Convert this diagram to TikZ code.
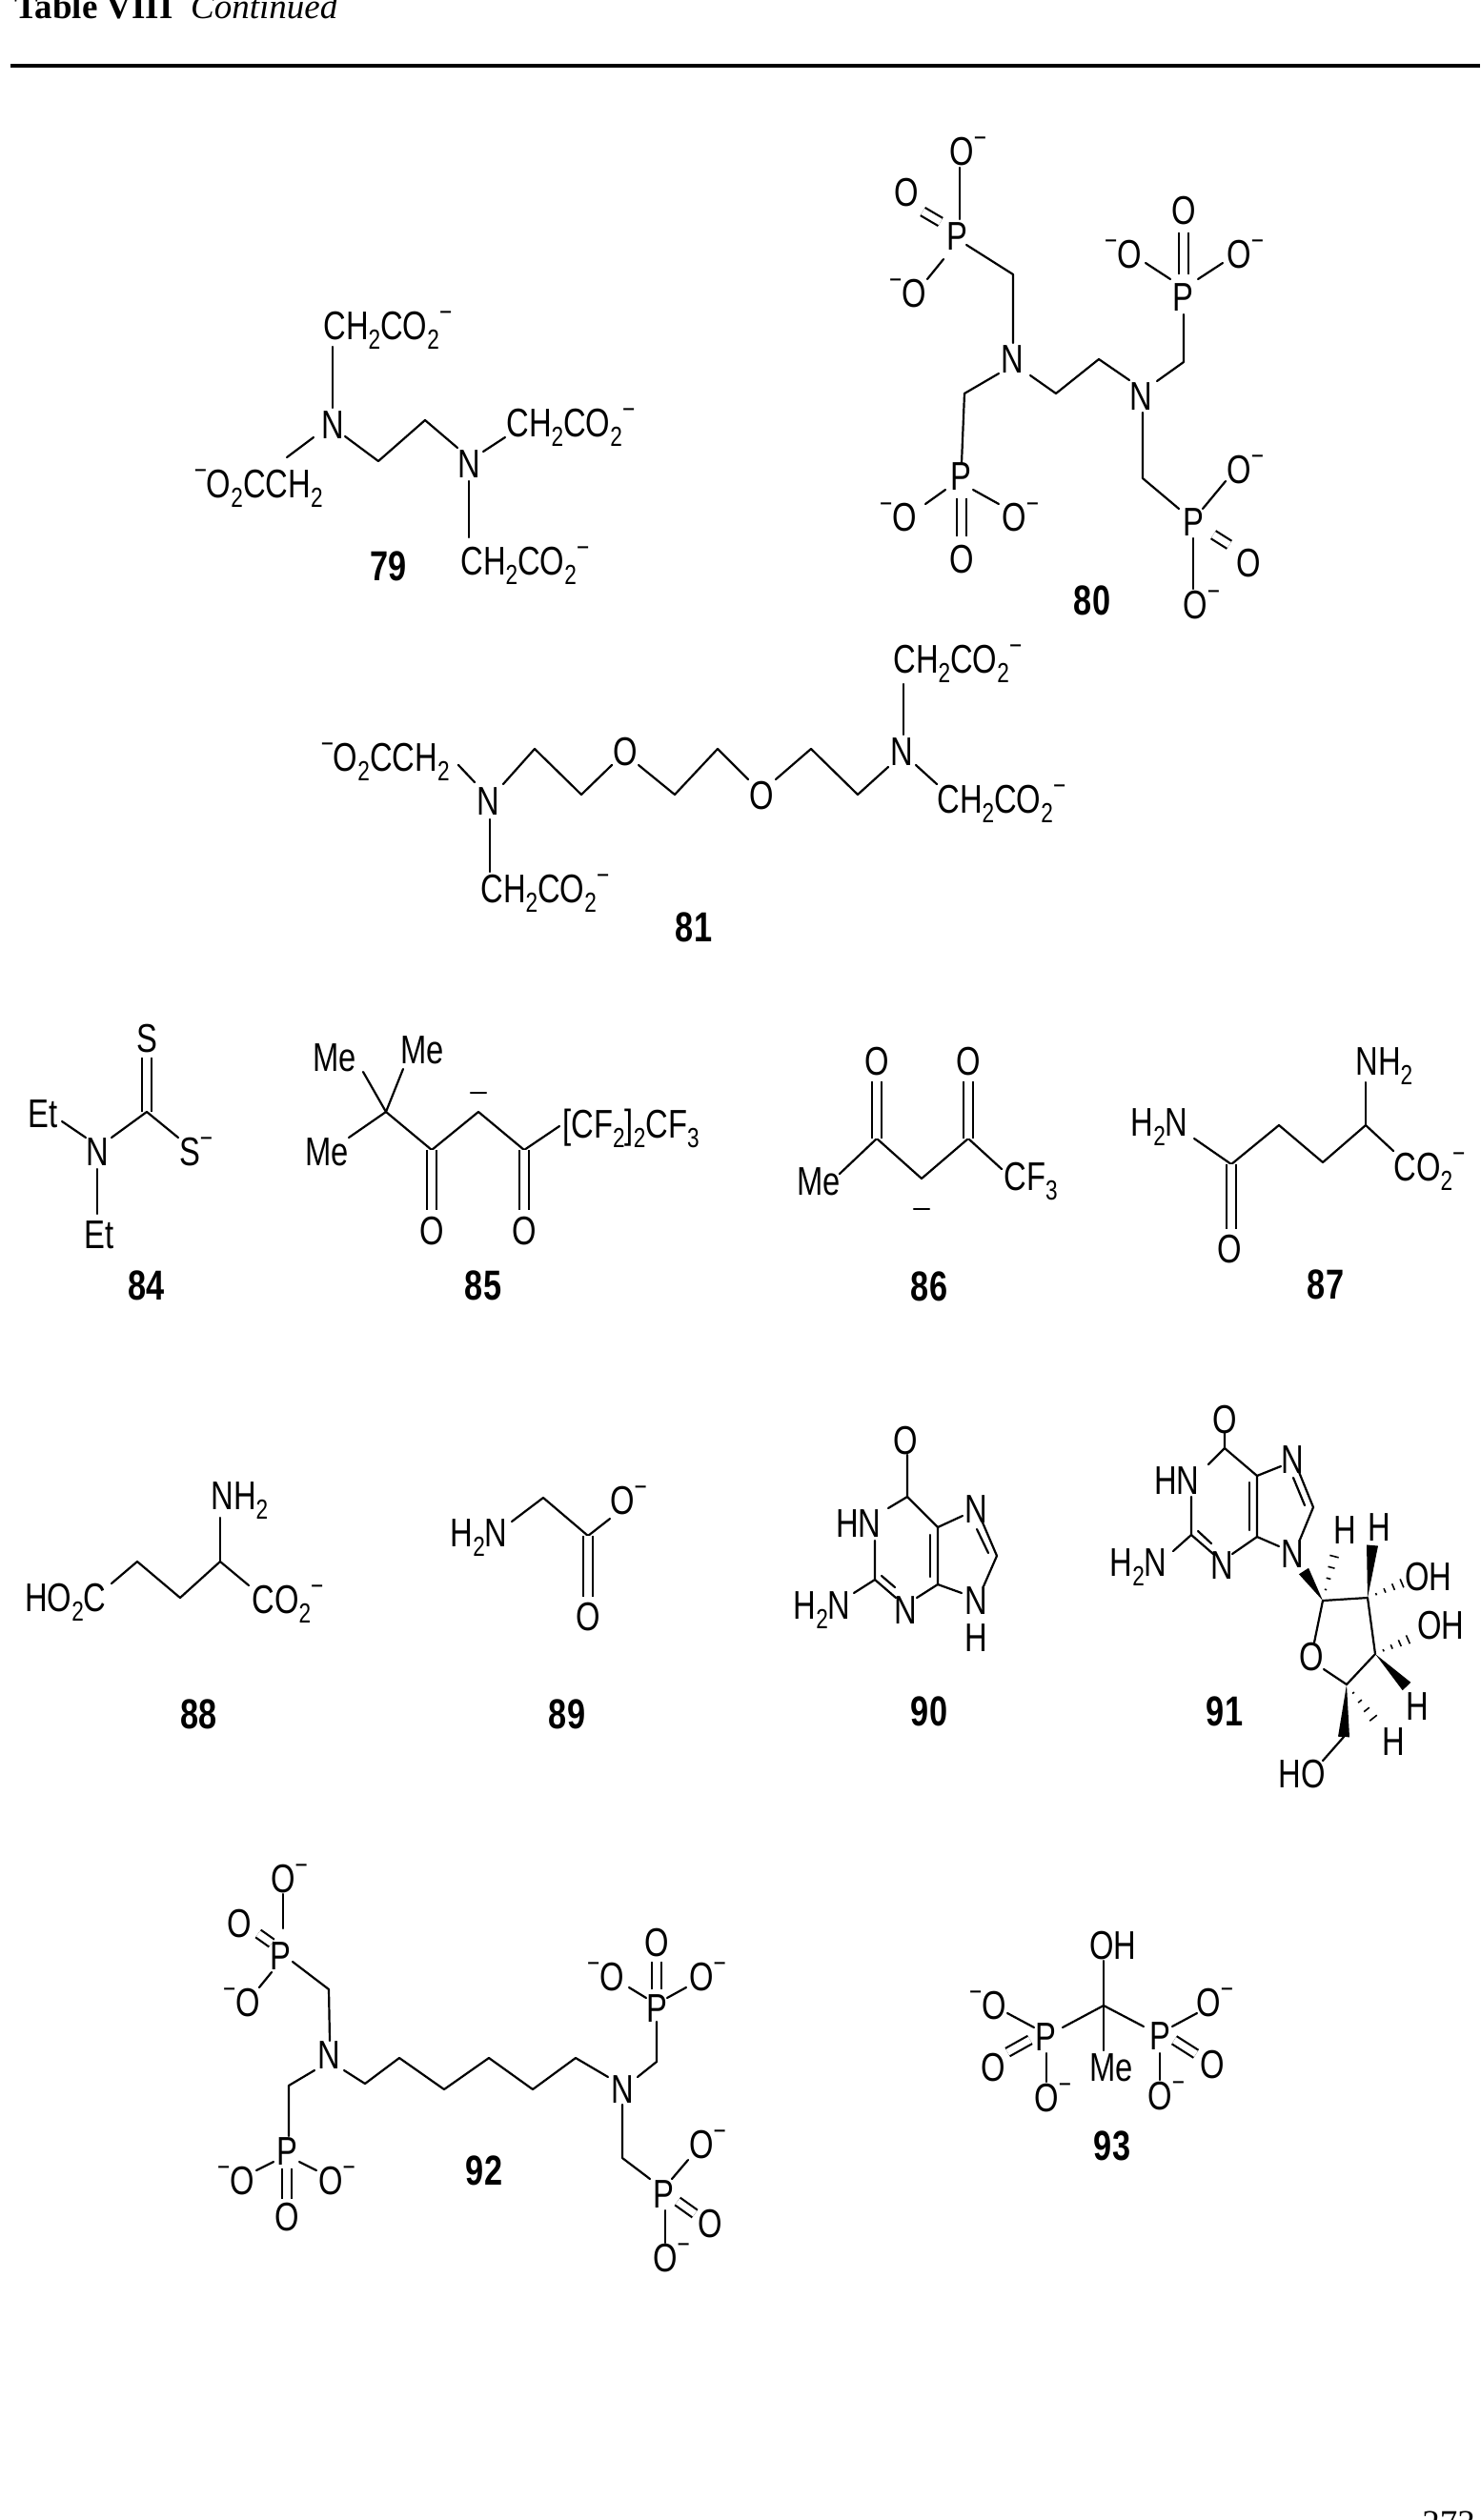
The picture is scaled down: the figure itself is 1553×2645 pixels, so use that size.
\documentclass[tikz,border=0pt]{standalone}
\usepackage{fontspec}
\usetikzlibrary{calc}
\setmainfont{Liberation Serif}
\newfontfamily\chemf{Liberation Sans}[FakeStretch=0.78]
\newcommand\chemfs{\chemf\fontsize{21}{23}\selectfont}
\newcommand\numfs{\chemf\bfseries\fontsize{22}{24}\selectfont}
\newcommand\sbs[1]{\raisebox{-0.45ex}{\fontsize{14.5}{15}\selectfont #1}}
\newcommand\chg{\raisebox{0.85ex}{\fontsize{14.5}{15}\selectfont −}}
\newcommand\Om{O\rlap{\chg}}
\newcommand\mO{\llap{\chg}O}
\newcount\nc
\newcommand\T[4][center]{\global\advance\nc by 1 \node[atom,anchor=#1] (n\the\nc) at (#2,#3) {#4};}
\newcommand\NUM[3]{\global\advance\nc by 1 \node[num] (n\the\nc) at (#1,#2) {#3};}
\newcommand\D[4]{\draw[bd,line cap=butt,double,double distance=3.6pt,shorten >=2.5pt] (#1,#2)--(#3,#4);}
\newcommand\DD[4]{\draw[bd,line cap=butt,double,double distance=3.6pt,shorten >=3pt,shorten <=3pt] (#1,#2)--(#3,#4);}
\newcommand\W[4]{\fill (#1,#2) -- ($(#3,#4)!3pt!90:(#1,#2)$) -- ($(#3,#4)!3pt!-90:(#1,#2)$) -- cycle;}
\newcommand\HH[4]{\foreach \t in {0.2,0.4,0.6,0.8,1.0}{\draw[line width=0.8pt] ($($(#1,#2)!\t!(#3,#4)$)!{\t*3pt}!90:(#3,#4)$) -- ($($(#1,#2)!\t!(#3,#4)$)!{\t*3pt}!-90:(#3,#4)$);}}
\begin{document}
\begin{tikzpicture}[x=0.5pt,y=-0.5pt,
  bd/.style={line width=1.1pt,line cap=round,line join=round},
  atom/.style={font=\chemfs,inner sep=0pt},
  num/.style={font=\numfs,inner sep=0pt}]
\useasboundingbox (0,0) rectangle (1553,2645);
\fill[white] (0,0) rectangle (1553,2645);
% header
\node[anchor=base west,inner sep=0,font=\fontsize{18.5}{20}\selectfont] (hdr) at (15,19) {\textbf{Table VIII}\ \ \textit{Continued}};
\draw[line width=2.2pt] (11,69) -- (1553,69);
\node[anchor=base west,inner sep=0,font=\fontsize{18.5}{20}\selectfont] (pg) at (1492,2660) {273};
% ---------- 79
\T[west]{339}{347}{CH\sbs2CO\sbs2\chg}
\T[east]{339}{513}{\chg O\sbs2CCH\sbs2}
\T{349}{446}{N}
\T{492}{487}{N}
\T[west]{531}{449}{CH\sbs2CO\sbs2\chg}
\T[west]{483}{594}{CH\sbs2CO\sbs2\chg}
\NUM{408}{594}{79}
\draw[bd] (349,364)--(349,428);
\draw[bd] (329,459)--(301,480);
\draw[bd] (362,458)--(397,484)--(446,441)--(480,470);
\draw[bd] (507,474)--(530,459);
\draw[bd] (492,505)--(492,564);
% ---------- 80
\T{1009}{159}{\Om}\T{951}{202}{O}\T{1004}{248}{P}\T{959}{308}{\mO}
\T{1062}{377}{N}
\T{1008}{500}{P}\T{949}{543}{\mO}\T{1064}{543}{\Om}\T{1009}{587}{O}
\T{1197}{416}{N}
\T{1241}{312}{P}\T{1242}{221}{O}\T{1185}{267}{\mO}\T{1300}{267}{\Om}
\T{1252}{548}{P}\T{1300}{493}{\Om}\T{1310}{591}{O}\T{1254}{635}{\Om}
\NUM{1146}{630}{80}
\draw[bd] (1007,176)--(1007,230);
\DD{963}{219}{992}{236}
\draw[bd] (973,293)--(990,272);
\draw[bd] (1014,257)--(1063,288)--(1063,360);
\draw[bd] (1048,392)--(1012,413)--(1009,486);
\draw[bd] (971,529)--(992,514);
\draw[bd] (1021,514)--(1048,529);
\DD{1009}{517}{1009}{569}
\draw[bd] (1081,394)--(1108,413)--(1153,377)--(1185,399);
\draw[bd] (1214,400)--(1242,380)--(1242,330);
\DD{1242}{294}{1242}{238}
\draw[bd] (1202,276)--(1228,293);
\draw[bd] (1257,293)--(1283,276);
\draw[bd] (1199,433)--(1199,502)--(1237,534);
\draw[bd] (1262,534)--(1286,505);
\DD{1268}{558}{1295}{575}
\draw[bd] (1252,565)--(1252,618);
% ---------- 81
\T[east]{472}{800}{\chg O\sbs2CCH\sbs2}
\T{512}{841}{N}
\T[west]{504}{938}{CH\sbs2CO\sbs2\chg}
\T{656}{789}{O}\T{799}{835}{O}
\T{946}{789}{N}
\T[west]{937}{697}{CH\sbs2CO\sbs2\chg}
\T[west]{983}{844}{CH\sbs2CO\sbs2\chg}
\NUM{728}{973}{81}
\draw[bd] (481,803)--(498,821);
\draw[bd] (514,860)--(514,915);
\draw[bd] (528,823)--(561,786)--(610,834)--(642,803);
\draw[bd] (670,803)--(708,834)--(753,786)--(785,818);
\draw[bd] (814,818)--(851,786)--(900,834)--(932,805);
\draw[bd] (948,771)--(948,718);
\draw[bd] (961,803)--(983,823);
% ---------- 84
\T{154}{1090}{S}\T{45}{1169}{Et}\T{102}{1209}{N}\T{199}{1209}{S\rlap{\chg}}\T{104}{1296}{Et}
\NUM{154}{1349}{84}
\D{154}{1167}{154}{1105}
\draw[bd] (65,1177)--(90,1194);
\draw[bd] (117,1194)--(154,1167)--(187,1194);
\draw[bd] (102,1227)--(102,1274);
% ---------- 85
\T{351}{1110}{Me}\T{443}{1102}{Me}\T{343}{1209}{Me}
\T{453}{1292}{O}\T{550}{1292}{O}
\T[west]{590}{1184}{[CF\sbs2]\sbs2CF\sbs3}
\NUM{507}{1349}{85}
\draw[bd] (405,1167)--(381,1125);
\draw[bd] (405,1167)--(423,1122);
\draw[bd] (405,1167)--(366,1194);
\draw[bd] (405,1167)--(453,1207)--(502,1167)--(550,1207)--(587,1182);
\D{453}{1207}{453}{1275}
\D{550}{1207}{550}{1275}
\draw[bd] (494,1147)--(510,1147);
% ---------- 86
\T{859}{1240}{Me}\T{920}{1114}{O}\T{1016}{1114}{O}
\T[west]{1053}{1240}{CF\sbs3}
\NUM{975}{1350}{86}
\draw[bd] (881,1232)--(920,1195)--(967,1237)--(1016,1195)--(1051,1227);
\D{920}{1195}{920}{1130}
\D{1016}{1195}{1016}{1130}
\draw[bd] (959,1269)--(975,1269);
% ---------- 87
\T[east]{1247}{1183}{H\sbs2N}
\T[west]{1422}{1119}{NH\sbs2}
\T{1290}{1311}{O}
\T[west]{1462}{1230}{CO\sbs2\chg}
\NUM{1391}{1348}{87}
\draw[bd] (1253,1195)--(1292,1222)--(1342,1181)--(1388,1220)--(1433,1181)--(1462,1208);
\draw[bd] (1433,1181)--(1433,1136);
\D{1292}{1222}{1292}{1295}
% ---------- 88
\T[east]{112}{1682}{HO\sbs2C}
\T[west]{221}{1575}{NH\sbs2}
\T[west]{264}{1684}{CO\sbs2\chg}
\NUM{209}{1799}{88}
\draw[bd] (117,1662)--(144,1639)--(189,1677)--(231,1639)--(261,1664);
\draw[bd] (231,1639)--(231,1593);
% ---------- 89
\T[east]{533}{1614}{H\sbs2N}
\T{653}{1575}{\Om}\T{617}{1697}{O}
\NUM{595}{1799}{89}
\draw[bd] (537,1597)--(570,1572)--(617,1612)--(640,1594);
\D{617}{1612}{617}{1681}
% ---------- 90
\T{950}{1512}{O}\T[east]{925}{1599}{HN}\T[east]{893}{1690}{H\sbs2N}
\T{950}{1690}{N}\T{1024}{1584}{N}\T{1024}{1680}{N}\T{1024}{1719}{H}
\NUM{975}{1796}{90}
\draw[bd] (952,1527)--(952,1571)--(932,1583);
\draw[bd] (918,1617)--(918,1658)--(896,1672);
\draw[bd] (918,1658)--(940,1677);
\draw[bd] (925,1654)--(939,1666);
\draw[bd] (962,1677)--(984,1663)--(984,1603)--(952,1571);
\draw[bd] (976,1611)--(976,1655);
\draw[bd] (984,1603)--(1010,1591);
\draw[bd] (1031,1598)--(1046,1633)--(1032,1665);
\draw[bd] (1025,1605)--(1037,1630);
\draw[bd] (984,1663)--(1009,1672);
% ---------- 91
\T{1285}{1490}{O}\T[east]{1259}{1554}{HN}\T[east]{1225}{1645}{H\sbs2N}
\T{1282}{1643}{N}\T{1356}{1532}{N}\T{1356}{1631}{N}
\T{1411}{1606}{H}\T{1447}{1603}{H}\T{1499}{1655}{OH}\T{1512}{1706}{OH}
\T{1487}{1791}{H}\T{1462}{1828}{H}\T{1366}{1862}{HO}\T{1376}{1739}{O}
\NUM{1285}{1796}{91}
\draw[bd] (1285,1504)--(1285,1520)--(1268,1537);
\draw[bd] (1250,1571)--(1250,1611)--(1231,1628);
\draw[bd] (1250,1611)--(1273,1631);
\draw[bd] (1257,1607)--(1271,1620);
\draw[bd] (1293,1631)--(1319,1613)--(1319,1549)--(1285,1520);
\draw[bd] (1311,1556)--(1311,1606);
\draw[bd] (1319,1549)--(1344,1539);
\draw[bd] (1363,1545)--(1378,1582)--(1364,1616);
\draw[bd] (1357,1551)--(1369,1580);
\draw[bd] (1319,1613)--(1342,1623);
\W{1388}{1680}{1368}{1649}
\HH{1388}{1680}{1403}{1622}
\draw[bd] (1388,1680)--(1435,1677)--(1443,1736)--(1413,1768);
\W{1435}{1677}{1440}{1622}
\HH{1435}{1677}{1480}{1658}
\HH{1443}{1736}{1486}{1717}
\W{1443}{1736}{1476}{1770}
\HH{1413}{1768}{1448}{1812}
\draw[bd] (1388,1680)--(1379,1724);
\draw[bd] (1389,1752)--(1413,1768);
\W{1413}{1768}{1410}{1823}
\draw[bd] (1410,1823)--(1388,1848);
% ---------- 92
\T{297}{1972}{\Om}\T{251}{2019}{O}\T{294}{2053}{P}\T{260}{2102}{\mO}
\T{345}{2157}{N}
\T{301}{2258}{P}\T{254}{2289}{\mO}\T{347}{2289}{\Om}\T{301}{2327}{O}
\T{653}{2193}{N}
\T{689}{2108}{P}\T{689}{2039}{O}\T{642}{2075}{\mO}\T{736}{2075}{\Om}
\T{696}{2303}{P}\T{736}{2251}{\Om}\T{745}{2334}{O}\T{698}{2370}{\Om}
\NUM{508}{2278}{92}
\draw[bd] (297,2024)--(297,1988);
\DD{266}{2026}{290}{2043}
\draw[bd] (272,2086)--(285,2070);
\draw[bd] (307,2059)--(345,2088)--(346,2142);
\draw[bd] (330,2173)--(303,2189)--(303,2242);
\draw[bd] (269,2278)--(287,2269);
\draw[bd] (314,2269)--(332,2278);
\DD{301}{2270}{301}{2314}
\draw[bd] (361,2173)--(383,2187)--(419,2160)--(466,2193)--(513,2160)--(559,2193)--(604,2160)--(638,2180);
\draw[bd] (669,2180)--(689,2164)--(689,2122);
\DD{689}{2094}{689}{2053}
\draw[bd] (660,2086)--(678,2097);
\draw[bd] (700,2097)--(720,2086);
\draw[bd] (653,2209)--(653,2265)--(682,2287);
\draw[bd] (705,2287)--(722,2267);
\DD{706}{2307}{734}{2327}
\draw[bd] (698,2320)--(698,2354);
% ---------- 93
\T{1168}{2042}{OH}\T{1166}{2170}{Me}
\T{1097}{2138}{P}\T{1217}{2137}{P}
\T{1043}{2105}{\mO}\T{1042}{2170}{O}\T{1098}{2202}{\Om}
\T{1268}{2102}{\Om}\T{1272}{2167}{O}\T{1217}{2200}{\Om}
\NUM{1167}{2252}{93}
\draw[bd] (1158,2058)--(1158,2152);
\draw[bd] (1115,2128)--(1158,2105)--(1200,2127);
\draw[bd] (1057,2113)--(1085,2128);
\DD{1052}{2157}{1086}{2138}
\draw[bd] (1098,2155)--(1098,2185);
\draw[bd] (1230,2127)--(1256,2113);
\DD{1227}{2138}{1260}{2159}
\draw[bd] (1217,2155)--(1217,2183);
\end{tikzpicture}
\end{document}
